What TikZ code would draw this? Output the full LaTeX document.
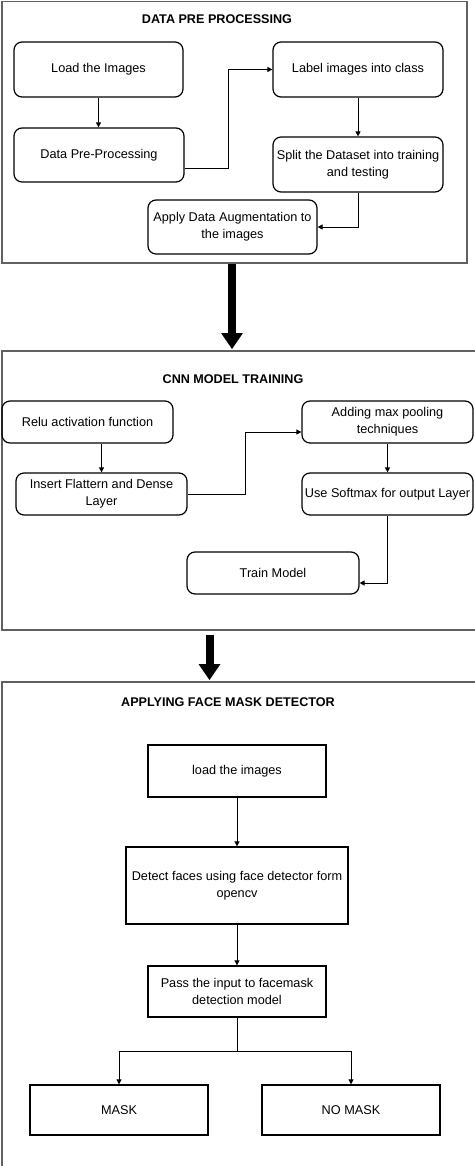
\documentclass[tikz,border=0pt]{standalone}
\usepackage{fontspec}
\setmainfont{Liberation Sans}
\usetikzlibrary{arrows.meta,calc}
\begin{document}
\begin{tikzpicture}[x=1pt,y=-1pt,
 frame/.style={draw=black!62, line width=1.5pt, inner sep=0pt, anchor=north west},
 rbox/.style={draw=black, line width=1.2pt, rounded corners=8pt, inner sep=1pt, align=center, font=\fontsize{12.7}{17}\selectfont},
 sbox/.style={rbox, rounded corners=0pt, line width=1.3pt},
 ttl/.style={font=\bfseries\fontsize{12.6}{15}\selectfont, inner sep=0pt},
 conn/.style={draw=black, line width=0.9pt},
 arr/.style={conn, -{Triangle[length=5pt,width=5pt]}},
 bigarr/.style={draw=black, line width=8pt, -{Triangle[length=16pt,width=22pt,line width=0pt]}}
]
\useasboundingbox (0,0) rectangle (474,1166);
\fill[white] (0,0) rectangle (474,1166);

% frames
\node[frame, minimum width=465pt, minimum height=261pt] (f1) at (1,1) {};
\node[frame, minimum width=490pt, minimum height=279pt] (f2) at (1,350) {};
\node[frame, minimum width=490pt, minimum height=500pt] (f3) at (1,681) {};

% titles
\node[ttl] (t1) at (217,19) {DATA PRE PROCESSING};
\node[ttl] (t2) at (233,379) {CNN MODEL TRAINING};
\node[ttl] (t3) at (228,702) {APPLYING FACE MASK DETECTOR};

% frame 1 boxes
\node[rbox, minimum width=169pt, minimum height=55pt] (load) at (98.5,69.5) {Load the Images};
\node[rbox, minimum width=170pt, minimum height=54pt] (dpp) at (99,155) {Data Pre-Processing};
\node[rbox, minimum width=170pt, minimum height=55pt] (label) at (358,69.5) {Label images into class};
\node[rbox, minimum width=170pt, minimum height=55pt] (split) at (358,164.5) {Split the Dataset into training\\and testing};
\node[rbox, minimum width=169pt, minimum height=54pt] (aug) at (232.5,227) {Apply Data Augmentation to\\the images};

% frame 2 boxes
\node[rbox, minimum width=171pt, minimum height=42pt] (relu) at (87.5,422) {Relu activation function};
\node[rbox, minimum width=171pt, minimum height=42pt] (flat) at (101.5,494) {Insert Flattern and Dense\\Layer};
\node[rbox, minimum width=171pt, minimum height=42pt] (pool) at (387.5,422) {Adding max pooling\\techniques};
\node[rbox, minimum width=171pt, minimum height=42pt] (soft) at (387.5,494) {Use Softmax for output Layer};
\node[rbox, minimum width=172pt, minimum height=42pt] (train) at (273,573) {Train Model};

% frame 3 boxes
\node[sbox, minimum width=178pt, minimum height=52pt] (load2) at (237,771) {load the images};
\node[sbox, minimum width=222pt, minimum height=77pt] (detect) at (237,885.5) {Detect faces using face detector form\\opencv};
\node[sbox, minimum width=178pt, minimum height=51pt] (pass) at (237,991.5) {Pass the input to facemask\\detection model};
\node[sbox, minimum width=178pt, minimum height=50pt] (mask) at (119,1110) {MASK};
\node[sbox, minimum width=178pt, minimum height=50pt] (nomask) at (351,1110) {NO MASK};

% frame 1 connectors
\draw[arr] (load.south) -- (load.south |- dpp.north);
\coordinate (j1) at (228,168);
\draw[arr] (dpp.east |- j1) -- (j1) |- (label.west);
\draw[arr] (label) -- (split);
\draw[arr] (split.south) |- (aug.east);

% frame 2 connectors
\draw[arr] (flat.north |- relu.south) -- (flat.north);
\coordinate (j2) at (245,432);
\draw[arr] (flat.east) -| (j2) -- (pool.west |- j2);
\draw[arr] (pool) -- (soft);
\coordinate (j3) at (387.5,583);
\draw[arr] (soft.south) -- (j3) -- (train.east |- j3);

% frame 3 connectors
\draw[arr] (load2) -- (detect);
\draw[arr] (detect) -- (pass);
\coordinate (br) at (237,1051);
\draw[conn] (pass.south) -- (br);
\draw[arr] (br) -| (mask.north);
\draw[arr] (br) -| (nomask.north);

% big arrows between stages
\coordinate (a1) at (232,349);
\draw[bigarr] (f1.south -| a1) -- (a1);
\coordinate (a2) at (209.5,680);
\draw[bigarr] ([yshift=-4pt]f2.south -| a2) -- (a2);
\end{tikzpicture}
\end{document}
